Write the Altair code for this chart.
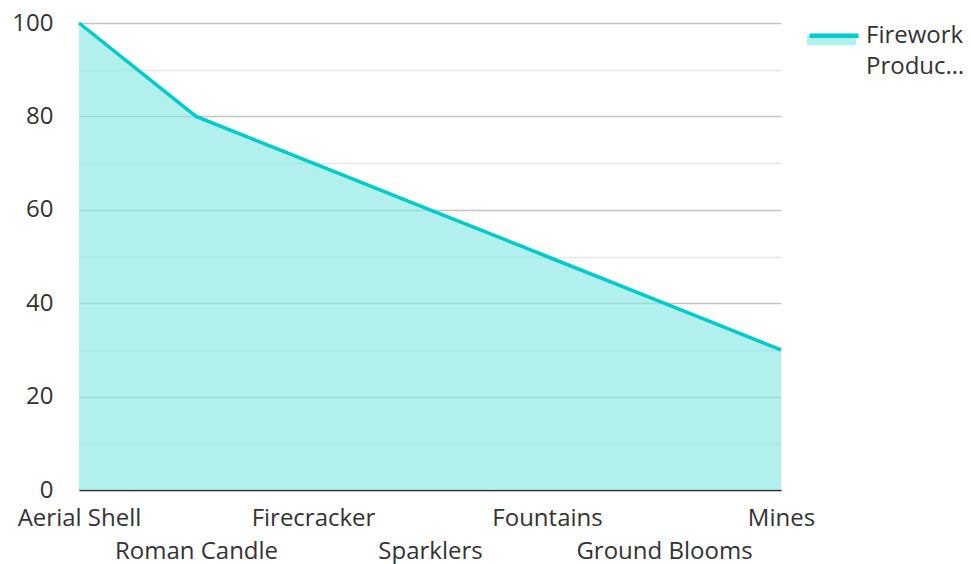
import altair as alt
import pandas as pd

categories = ["Aerial Shell", "Roman Candle", "Firecracker", "Sparklers",
              "Fountains", "Ground Blooms", "Mines"]
values = [100, 80, 70, 60, 50, 40, 30]
series_name = "Firework Production"
y_ticks = list(range(0, 101, 10))

df = pd.DataFrame({
    "category": categories,
    "value": values,
    "series": [series_name] * len(categories),
    "series_line": [series_name] * len(categories),
})

FONT = "Open Sans"
TEXT = "#333333"
FS = 24

x_enc = alt.X(
    "category:N", sort=categories,
    scale=alt.Scale(type="point", padding=0),
    axis=alt.Axis(
        title=None, labelAngle=0, ticks=False, grid=False,
        domainColor="#333333", domainWidth=1.5,
        labelFont=FONT, labelFontSize=FS, labelColor=TEXT,
        labelPadding=16, labelOverlap=False, labelLineHeight=33,
        labelExpr="indexof(['Roman Candle','Sparklers','Ground Blooms'], datum.label) >= 0 ? ['', datum.label] : datum.label",
    ),
)
y_enc = alt.Y(
    "value:Q",
    scale=alt.Scale(domain=[0, 100], nice=False),
    axis=alt.Axis(
        title=None, values=y_ticks, domain=False, ticks=False,
        labelFont=FONT, labelFontSize=FS, labelColor=TEXT, labelPadding=26,
        labelExpr="datum.value % 20 == 0 ? datum.label : ''",
        gridColor=alt.condition("datum.value % 20 == 0", alt.value("#c4c4c4"), alt.value("#e6e6e6")),
        gridWidth=1.3,
    ),
)

legend_common = dict(
    orient="none", legendX=728, legendY=-12, title=None,
    symbolSize=2401, labelFont=FONT, labelFontSize=FS, labelOffset=10,
    labelLimit=300,
)

area = alt.Chart(df).mark_area(fillOpacity=0.64).encode(
    x=x_enc, y=y_enc,
    fill=alt.Fill("series:N", scale=alt.Scale(range=["#86e7e4"]),
                  legend=alt.Legend(symbolType="M-1,0H1V0.4H-1Z",
                                    symbolOpacity=0.64, symbolStrokeWidth=0,
                                    labelColor=TEXT,
                                    labelExpr="['Firework', 'Produc…']",
                                    **legend_common)),
)
line = alt.Chart(df).mark_line(strokeWidth=3.5).encode(
    x=x_enc, y=y_enc,
    stroke=alt.Stroke("series_line:N", scale=alt.Scale(range=["#00cccc"]),
                      legend=alt.Legend(symbolType="M-1,-0.09H1",
                                        symbolStrokeWidth=4.4,
                                        labelColor="transparent",
                                        labelExpr="''",
                                        **legend_common)),
)

chart = alt.layer(area, line).resolve_scale(fill="independent", stroke="independent").properties(
    width=702, height=467,
    autosize=alt.AutoSizeParams(type="none"),
    padding={"left": 71, "top": 15, "right": 182, "bottom": 75},
).configure(
    style={"guide-label": {"lineHeight": 31}},
    view={"stroke": None},
)

chart.save("out.html", embed_options={"renderer": "svg", "actions": False})
